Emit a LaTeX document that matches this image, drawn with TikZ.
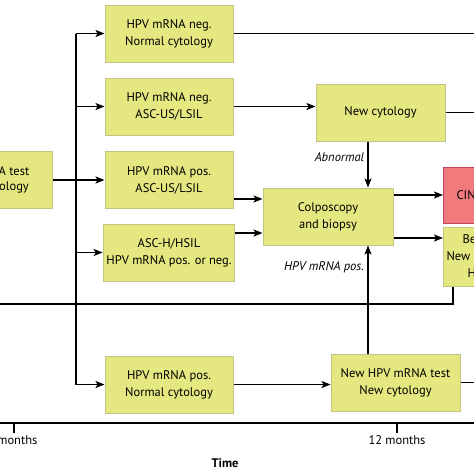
\documentclass[tikz,border=0pt]{standalone}
\usepackage{fontspec}
\setmainfont{PT Sans}
\usetikzlibrary{arrows.meta}
\definecolor{boxfill}{RGB}{229,231,128}
\definecolor{boxline}{RGB}{196,196,130}
\definecolor{cinfill}{RGB}{240,122,124}
\definecolor{cinline}{RGB}{190,70,90}

\begin{document}
\begin{tikzpicture}[x=1pt, y=-1pt,
    box/.style={draw=boxline, fill=boxfill, line width=1pt, minimum width=128pt,
      minimum height=57pt, align=center, font=\fontsize{12.5}{17}\selectfont},
    cinbox/.style={box, draw=cinline, fill=cinfill},
    lab/.style={font=\fontsize{12.5}{15}\selectfont},
    arr/.style={-{Stealth[length=9pt, width=7pt, inset=2pt]}},
    every path/.style={line width=1.2pt}]
    \useasboundingbox (0,0) rectangle (474,474);

    \coordinate (bus) at (76,0);
    \coordinate (tap) at (368,0);
    \coordinate (edge) at (490,0);
    \coordinate (back) at (-10,304);

    \node[box, minimum width=112pt] (screen) at (-4,180) {};
    \node[lab, align=center] (screentxt) at (14,180) {A test\\ology};

    \node[box] (n1) at (169,33.5) {HPV mRNA neg.\\Normal cytology};
    \node[box] (n2) at (169,106.5) {HPV mRNA neg.\\ASC-US/LSIL};
    \node[box] (n3) at (169,180) {HPV mRNA pos.\\ASC-US/LSIL};
    \node[box] (n4) at (169,252.5) {ASC-H/HSIL\\HPV mRNA pos. or neg.};
    \node[box] (n5) at (169,384.5) {HPV mRNA pos.\\Normal cytology};

    \node[box, minimum width=129pt] (newcyt) at (380.5,112.5) {New cytology};
    \node[box, minimum width=130pt] (colpo) at (328,216.5) {Colposcopy\\and biopsy};
    \node[box, minimum width=129pt] (newhpv) at (395.5,382.5) {New HPV mRNA test\\New cytology};

    \node[cinbox, anchor=west, minimum width=0pt, minimum height=56pt, text width=60pt, align=left, inner xsep=13pt] (cin) at (443,195) {CIN};
    \node[box, anchor=west, minimum width=0pt, minimum height=59pt, text width=70pt, align=left, inner xsep=3pt] (benign) at (443,256.5)
      {\hspace*{16pt}Be\\New\\\hspace*{21pt}H};

    \draw[arr] (screen.east) -- (n3.west);
    \draw (bus |- n1.west) -- (bus |- n5.west);
    \foreach \n in {n1,n2,n4,n5}
      \draw[arr] (bus |- \n.west) -- (\n.west);

    \draw (n1.east) -- (n1.east -| edge);
    \draw[arr] (n2.east) -- (n2.east -| newcyt.west);
    \draw (newcyt.east) -- (newcyt.east -| edge);
    \draw[arr] (tap |- newcyt.south) -- (tap |- colpo.north)node[lab, pos=0.35, left]{\textit{Abnormal}};
    \draw[arr] ([yshift=-19pt]n3.east) -- ([yshift=-19pt]n3.east -| colpo.west);
    \draw[arr] ([yshift=19.5pt]n4.east) -- ([yshift=19.5pt]n4.east -| colpo.west);
    \draw[arr] (colpo.east |- cin.west) -- (cin.west);
    \draw[arr] ([yshift=-21.5pt]colpo.east) -- ([yshift=-21.5pt]colpo.east -| benign.west);
    \draw ([xshift=10pt]benign.south west) |- (back);
    \draw[arr] (n5.east) -- (n5.east -| newhpv.west);
    \draw[arr] (tap |- newhpv.north) -- (tap |- colpo.south)node[lab, pos=0.8, left]{\textit{HPV mRNA pos.}};
    \draw (newhpv.east) -- (newhpv.east -| edge);

    % time axis
    \coordinate (t0) at (14,423);
    \coordinate (t12) at (397,423);
    \draw (-10,423) -- (490,423);
    \draw (t0) -- ++(0,10);
    \draw (t12) -- ++(0,10);
    \node[lab, anchor=north east, inner sep=1pt] (lab0) at (39,434) {months};
    \node[lab, below, inner sep=1pt] (lab12) at (397,434) {12 months};
    \node[lab, font=\bfseries\fontsize{12.5}{15}\selectfont] (time) at (225,463) {Time};
  \end{tikzpicture}
\end{document}
